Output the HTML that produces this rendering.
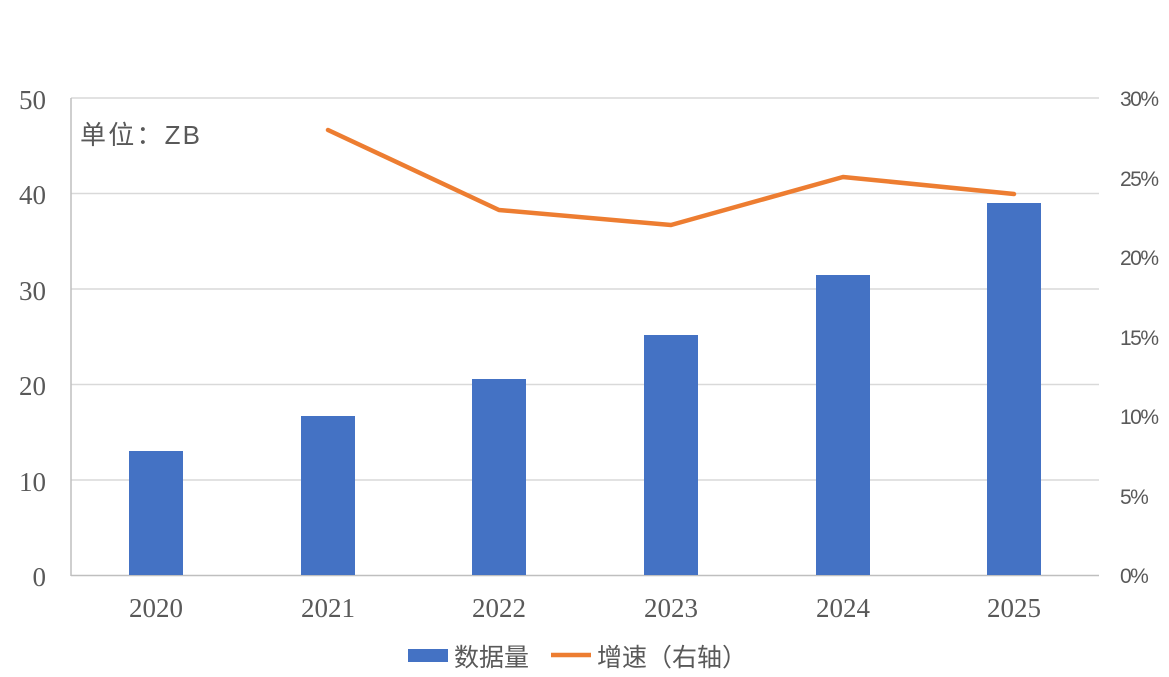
<!DOCTYPE html>
<html><head><meta charset="utf-8"><style>body{margin:0;background:#fff}svg{display:block}</style></head>
<body>
<svg width="1169" height="677" xmlns="http://www.w3.org/2000/svg">
<g stroke="#d9d9d9" stroke-width="1.5">
<line x1="71" y1="98" x2="1099" y2="98"/>
<line x1="71" y1="193.5" x2="1099" y2="193.5"/>
<line x1="71" y1="289" x2="1099" y2="289"/>
<line x1="71" y1="384.5" x2="1099" y2="384.5"/>
<line x1="71" y1="480" x2="1099" y2="480"/>
</g>
<line x1="71" y1="98" x2="71" y2="576" stroke="#bfbfbf" stroke-width="1.5"/>
<line x1="71" y1="575.5" x2="1099" y2="575.5" stroke="#bfbfbf" stroke-width="1.5"/>
<g fill="#4472c4">
<rect x="129" y="451" width="54" height="124"/>
<rect x="301" y="416" width="54" height="159"/>
<rect x="472" y="379" width="54" height="196"/>
<rect x="644" y="335" width="54" height="240"/>
<rect x="816" y="275" width="54" height="300"/>
<rect x="987" y="203" width="54" height="372"/>
</g>
<polyline points="328,130 499,210 671,225 843,177 1014,194" fill="none" stroke="#ed7d31" stroke-width="4.5" stroke-linejoin="round" stroke-linecap="round"/>
<g font-family="Liberation Serif, serif" font-size="27" fill="#595959" text-anchor="end">
<text x="46" y="109">50</text><text x="46" y="204">40</text><text x="46" y="300">30</text>
<text x="46" y="395">20</text><text x="46" y="491">10</text><text x="46" y="586">0</text>
</g>
<g font-family="Liberation Sans, sans-serif" font-size="21" fill="#595959" letter-spacing="-1.5">
<text x="1120" y="106">30%</text><text x="1120" y="186">25%</text><text x="1120" y="265">20%</text>
<text x="1120" y="345">15%</text><text x="1120" y="424">10%</text><text x="1120" y="504">5%</text><text x="1120" y="583">0%</text>
</g>
<g font-family="Liberation Serif, serif" font-size="27" fill="#595959" text-anchor="middle">
<text x="156" y="617">2020</text><text x="328" y="617">2021</text><text x="499" y="617">2022</text>
<text x="671" y="617">2023</text><text x="843" y="617">2024</text><text x="1014" y="617">2025</text>
</g>
<text x="80" y="144" font-family="Liberation Sans, 'Noto Sans CJK SC', sans-serif" font-size="26" fill="#595959" textLength="120" lengthAdjust="spacing">单位：ZB</text>
<rect x="408" y="649" width="40" height="13" fill="#4472c4"/>
<text x="454" y="666" font-family="Liberation Sans, 'Noto Sans CJK SC', sans-serif" font-size="25" fill="#595959">数据量</text>
<line x1="551" y1="655" x2="591" y2="655" stroke="#ed7d31" stroke-width="4.5"/>
<text x="597" y="666" font-family="Liberation Sans, 'Noto Sans CJK SC', sans-serif" font-size="25" fill="#595959">增速（右轴）</text>
</svg>
</body></html>
